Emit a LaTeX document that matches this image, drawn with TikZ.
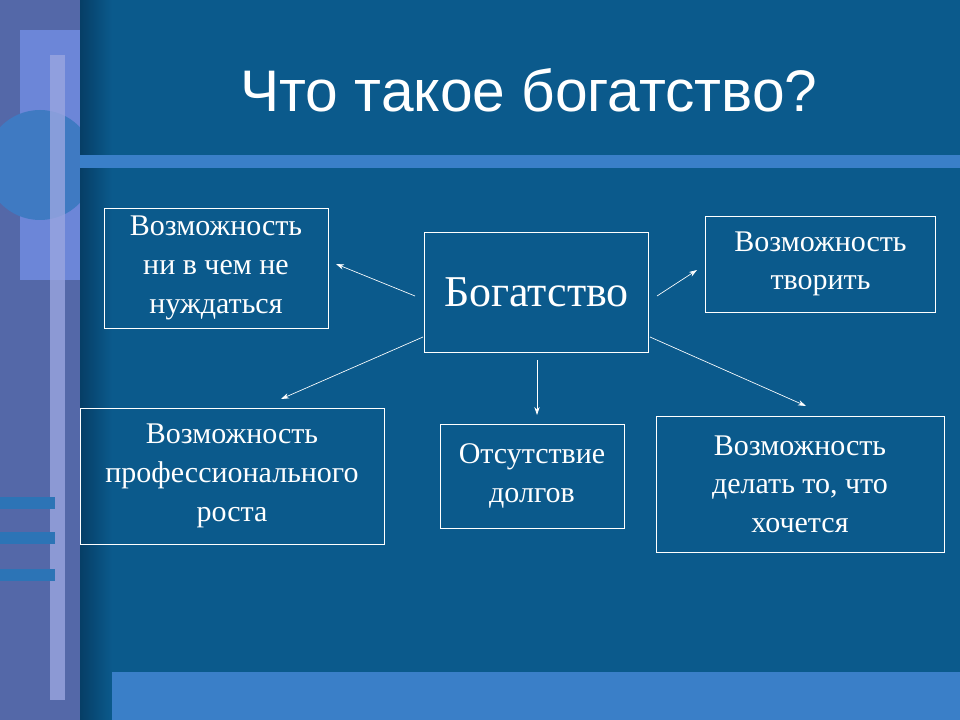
\documentclass[tikz,border=0pt]{standalone}
\usepackage{fontspec}
\setmainfont{Liberation Serif}
\newfontfamily\titlefont{Liberation Sans}
\usetikzlibrary{arrows.meta}
\definecolor{bg}{HTML}{0B5A8C}
\definecolor{band}{HTML}{3A7FC8}
\definecolor{tex}{HTML}{5468A8}
\definecolor{texl}{HTML}{6C86D8}
\definecolor{stripe}{HTML}{9AA6E0}
\definecolor{dark}{HTML}{063E66}
\begin{document}
\begin{tikzpicture}[x=0.75pt,y=-0.75pt,
  box/.style={draw=white,line width=0.6pt,text=white,align=center,font=\fontsize{22.5}{29}\selectfont,inner sep=0pt},
  arr/.style={white,line width=0.5pt,-{Stealth[length=6pt,width=4pt]}}]
\useasboundingbox (0,0) rectangle (960,720);
\fill[bg] (0,0) rectangle (960,720);
% left decoration
\fill[tex] (0,0) rectangle (80,720);
\fill[texl] (20,30) rectangle (80,280);
\fill[band!80!tex] (40,165) circle (55);
\fill[tex] (-60,0) rectangle (0,720);
\fill[stripe,opacity=0.8] (50,55) rectangle (65,700);
\foreach \yy in {503,538,575} \fill[band!70!bg] (0,\yy-6) rectangle (55,\yy+6);
\shade[left color=dark,right color=bg] (80,0) rectangle (112,720);
\fill[band] (80,155) rectangle (960,168);
\fill[band] (112,672) rectangle (960,720);
% title
\node (title) [text=white,font=\titlefont\fontsize{44}{48}\selectfont] at (529,90) {Что такое богатство?};
% boxes
\node (B) [box,minimum width=168pt,minimum height=90pt,font=\fontsize{33}{36}\selectfont] at (536.5,292) {Богатство};
\node (A) [box,minimum width=168pt,minimum height=90pt] at (216,268) {Возможность\\ни в чем не\\нуждаться};
\node (C) [box,minimum width=173pt,minimum height=72pt] at (820.5,264) {Возможность\\творить};
\node (D) [box,minimum width=228pt,minimum height=102pt] at (232,476) {Возможность\\профессионального\\роста};
\node (E) [box,minimum width=138pt,minimum height=78pt] at (532,476) {Отсутствие\\долгов};
\node (F) [box,minimum width=216pt,minimum height=102pt] at (800,484) {Возможность\\делать то, что\\хочется};
% arrows
\coordinate (a1) at (415,296); \coordinate (a2) at (336,264);
\coordinate (c1) at (657,296); \coordinate (c2) at (697,270);
\coordinate (d1) at (423,337); \coordinate (d2) at (281,399);
\coordinate (e1) at (537,360); \coordinate (e2) at (537,415);
\coordinate (f1) at (650,337); \coordinate (f2) at (806,406);
\draw[arr] (a1) -- (a2);
\draw[arr] (c1) -- (c2);
\draw[arr] (d1) -- (d2);
\draw[arr] (e1) -- (e2);
\draw[arr] (f1) -- (f2);
\end{tikzpicture}
\end{document}
